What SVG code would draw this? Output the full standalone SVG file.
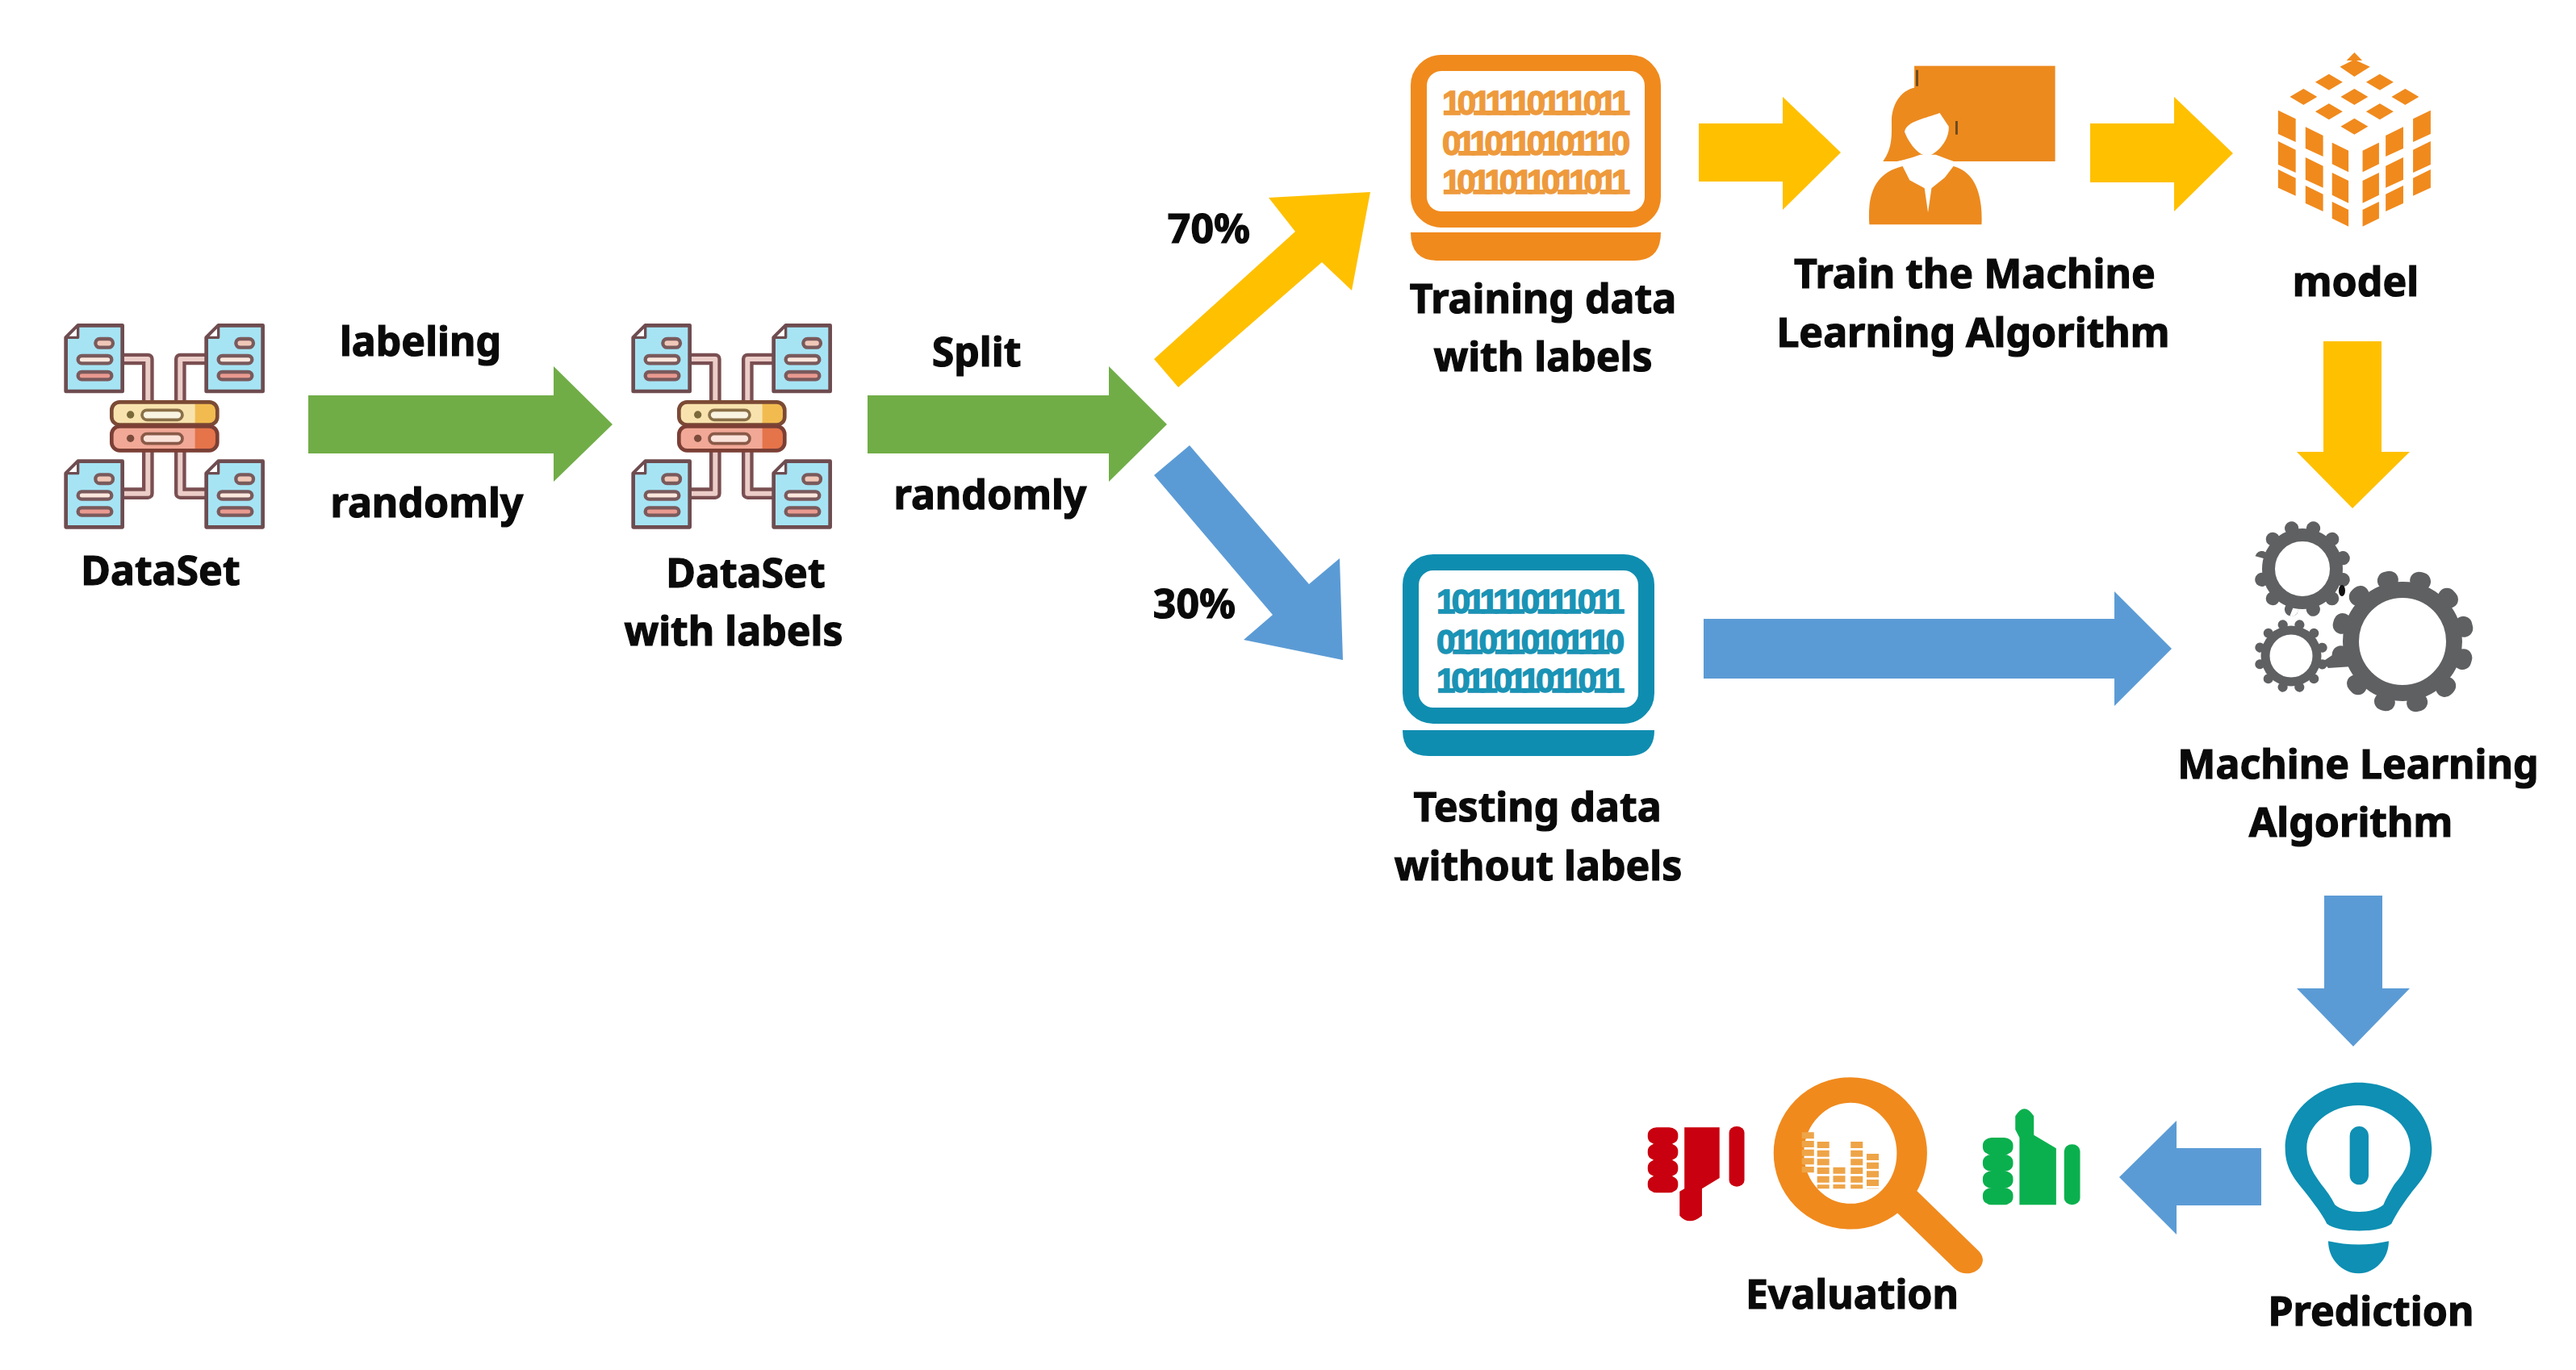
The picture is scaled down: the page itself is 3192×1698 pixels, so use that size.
<svg xmlns="http://www.w3.org/2000/svg" width="3192" height="1698" viewBox="0 0 3192 1698">
<style>
.t{font-family:"Noto Sans","Open Sans","Liberation Sans",sans-serif;font-weight:700;font-size:50px;fill:#0a0a0a;stroke:#0a0a0a;stroke-width:1.2px;text-anchor:middle}
.y{fill:#ffc000}.g{fill:#70ad47}.b{fill:#5b9bd5}
.bin{font-family:"Liberation Sans",sans-serif;font-weight:700;font-size:42px;stroke-width:1.5px}
.gear{fill:none;stroke:#5f6062}
.teeth{fill:none;stroke:#5f6062;stroke-linecap:round}
.doc{fill:#a6e4f4;stroke:#6e4c50;stroke-width:14;stroke-linejoin:round}
.pill{stroke:#7a5a5c;stroke-width:13;fill:#f0c8b8}
.w1{fill:none;stroke:#7a4f52;stroke-width:44;stroke-linejoin:round}
.w2{fill:none;stroke:#eccdc8;stroke-width:18;stroke-linejoin:round}
.o{fill:#f08a1d}
.r{fill:#c9000f}.gn{fill:#0bb04e}
</style>
<defs>
<g id="doc">
<path class="doc" d="M50 5H215V250H5V50Z"/>
<path d="M50 5V50H5Z" fill="#fff" stroke="#6e4c50" stroke-width="10" stroke-linejoin="round"/>
<rect class="pill" x="115" y="55" width="65" height="32" rx="16"/>
<rect class="pill" x="50" y="118" width="125" height="28" rx="14" style="fill:#fbe6dc"/>
<rect class="pill" x="50" y="178" width="125" height="28" rx="14" style="fill:#e99a90"/>
</g>
<g id="dataset">
<path class="w1" d="M330 255H430V420M330 755H430V590M650 255H550V420M650 755H550V590"/>
<path class="w2" d="M330 255H430V420M330 755H430V590M650 255H550V420M650 755H550V590"/>
<use href="#doc" x="120" y="125"/><use href="#doc" x="642" y="125"/>
<use href="#doc" x="120" y="630"/><use href="#doc" x="642" y="630"/>
<rect x="295" y="415" width="393" height="85" rx="30" fill="#f8e3ae"/>
<path d="M605 415H658Q688 415 688 445V470Q688 500 658 500H605Z" fill="#f2bb50"/>
<rect x="295" y="415" width="393" height="85" rx="30" fill="none" stroke="#7b4a35" stroke-width="14"/>
<rect x="295" y="505" width="393" height="90" rx="30" fill="#f2a896"/>
<path d="M605 505H658Q688 505 688 535V565Q688 595 658 595H605Z" fill="#e5744a"/>
<rect x="295" y="505" width="393" height="90" rx="30" fill="none" stroke="#7b3f35" stroke-width="14"/>
<rect x="408" y="445" width="150" height="36" rx="18" fill="#f9f3e2" stroke="#8a7048" stroke-width="11"/>
<rect x="408" y="533" width="150" height="36" rx="18" fill="#fbe3da" stroke="#8a5a48" stroke-width="11"/>
<circle cx="365" cy="462" r="14" fill="#7a6a3a"/><circle cx="365" cy="550" r="14" fill="#7a4a3a"/>
</g>
</defs>
<rect width="3192" height="1698" fill="#fff"/>

<g id="connectors">
<polygon class="g" points="382,490 686,490 686,454 759,526 686,597 686,562 382,562"/>
<polygon class="g" points="1075,490 1374,490 1374,454 1446,526 1374,597 1374,562 1075,562"/>
<polygon class="y" points="1430,445 1605,287 1572,245 1698,238 1675,360 1638,325 1460,480"/>
<polygon class="b" points="1474,552 1622,724 1660,692 1664,818 1541,793 1577,762 1430,589"/>
<polygon class="y" points="2105,153 2209,153 2209,120 2281,189 2209,260 2209,225 2105,225"/>
<polygon class="y" points="2590,153 2694,153 2694,120 2767,190 2694,262 2694,226 2590,226"/>
<polygon class="y" points="2879,423 2951,423 2951,560 2986,560 2915,630 2846,560 2879,560"/>
<polygon class="b" points="2111,767 2620,767 2620,733 2691,804 2620,875 2620,841 2111,841"/>
<polygon class="b" points="2880,1110 2952,1110 2952,1225 2986,1225 2916,1297 2846,1225 2880,1225"/>
<polygon class="b" points="2802,1423 2697,1423 2697,1389 2626,1459 2697,1530 2697,1494 2802,1494"/>
</g>

<g id="dataset-1"><use href="#dataset" transform="translate(40 360) scale(.3333)"/><text class="t" x="199" y="725">DataSet</text></g>
<g id="label-labeling"><text class="t" x="521" y="441">labeling</text></g>
<g id="label-randomly-1"><text class="t" x="529" y="641">randomly</text></g>
<g id="dataset-2"><use href="#dataset" transform="translate(743 360) scale(.3333)"/><text class="t" x="924" y="728">DataSet</text><text class="t" x="909" y="800">with labels</text></g>
<g id="label-split"><text class="t" x="1210" y="454">Split</text></g>
<g id="label-randomly-2"><text class="t" x="1227" y="631">randomly</text></g>
<g id="label-70"><text class="t" x="1498" y="301">70%</text></g>
<g id="label-30"><text class="t" x="1480" y="766">30%</text></g>

<g id="training-data">
<rect x="1758" y="78" width="290" height="194" rx="28" fill="#fff" stroke="#f08a1d" stroke-width="20"/>
<path class="o" d="M1748 288H2058Q2058 323 2025 323H1781Q1748 323 1748 288Z"/>
<g class="bin" fill="#ee9a3c" stroke="#ee9a3c">
<text x="1787" y="142" textLength="233">1011110111011</text>
<text x="1787" y="192" textLength="233">0110110101110</text>
<text x="1787" y="240" textLength="233">1011011011011</text>
</g>
<text class="t" x="1912" y="388">Training data</text><text class="t" x="1912" y="460">with labels</text>
</g>

<g id="testing-data">
<rect x="1748" y="697" width="292" height="190" rx="28" fill="#fff" stroke="#0f8db0" stroke-width="20"/>
<path d="M1738 905H2050Q2050 937 2017 937H1771Q1738 937 1738 905Z" fill="#0f8db0"/>
<g class="bin" fill="#1a93b5" stroke="#1a93b5">
<text x="1780" y="760" textLength="233">1011110111011</text>
<text x="1780" y="810" textLength="233">0110110101110</text>
<text x="1780" y="858" textLength="233">1011011011011</text>
</g>
<text class="t" x="1905" y="1018">Testing data</text><text class="t" x="1906" y="1091">without labels</text>
</g>

<g id="train-algorithm">
<g transform="translate(2280 50) scale(.4847 .3333)">
<rect x="190" y="95" width="360" height="355" fill="#ec8a1e"/>
<path fill="#ec8a1e" d="M195 175C150 185 132 250 132 300C132 350 135 400 110 450H310V290L260 175Z"/>
<path fill="#fff" d="M255 270C220 290 170 300 165 340C175 380 200 430 225 430C250 420 280 370 278 320Z"/>
<path fill="#fff" d="M105 462Q170 445 205 425L245 425Q280 445 320 465L300 490H130Z"/>
<path fill="#ec8a1e" d="M75 685C70 580 85 495 160 468L178 520L216 550L225 640L234 550L268 510L290 468C345 490 365 570 362 685Z"/>
<path d="M197 110V170M298 300V350" stroke="#6b4a20" stroke-width="6"/>
</g>
<text class="t" x="2447" y="357">Train the Machine</text><text class="t" x="2445" y="430">Learning Algorithm</text>
</g>

<g id="model">
<g class="o" transform="translate(2280 50) scale(.4847 .3333)">
<path d="M1315 45L1335 75L1320 75L1355 98L1315 135L1278 98L1310 75L1295 75Z"/>
<path d="M1250 125L1285 155L1250 185L1215 155Z"/>
<path d="M1380 125L1415 155L1380 185L1345 155Z"/>
<path d="M1185 180L1220 210L1185 240L1150 210Z"/>
<path d="M1315 180L1350 210L1315 240L1280 210Z"/>
<path d="M1445 180L1480 210L1445 240L1410 210Z"/>
<path d="M1250 235L1285 265L1250 295L1215 265Z"/>
<path d="M1380 235L1415 265L1380 295L1345 265Z"/>
<path d="M1315 290L1350 320L1315 350L1280 320Z"/>
<path d="M1120 260L1165 292V378L1120 348ZM1120 375L1165 407V492L1120 462ZM1120 480L1165 512V578L1120 548Z"/>
<path d="M1190 322L1235 354V432L1190 402ZM1190 435L1235 467V548L1190 518ZM1190 540L1235 572V636L1190 606Z"/>
<path d="M1258 380L1300 410V490L1258 460ZM1258 492L1300 522V605L1258 575ZM1258 600L1300 630V692L1258 662Z"/>
<path d="M1510 260L1465 292V378L1510 348ZM1510 375L1465 407V492L1510 462ZM1510 480L1465 512V578L1510 548Z"/>
<path d="M1440 322L1395 354V432L1440 402ZM1440 435L1395 467V548L1440 518ZM1440 540L1395 572V636L1440 606Z"/>
<path d="M1378 380L1336 410V490L1378 460ZM1378 492L1336 522V605L1378 575ZM1378 600L1336 630V692L1378 662Z"/>
</g>
<text class="t" x="2919" y="367">model</text>
</g>

<g id="algorithm">
<circle class="gear" cx="2853" cy="705" r="42" stroke-width="16"/>
<circle class="teeth" cx="2853" cy="705" r="52" stroke-width="17" pathLength="24" stroke-dasharray=".01 1.99" transform="rotate(15 2853 705)"/>
<circle class="gear" cx="2839" cy="813" r="32" stroke-width="11"/>
<circle class="teeth" cx="2839" cy="813" r="40" stroke-width="12" pathLength="24" stroke-dasharray=".01 1.99" transform="rotate(15 2839 813)"/>
<path d="M2878 820L2905 802L2915 826L2885 828Z" fill="#5f6062"/>
<circle class="gear" cx="2977" cy="795" r="64" stroke-width="20"/>
<circle class="teeth" cx="2977" cy="795" r="78" stroke-width="22" pathLength="24" stroke-dasharray=".2 1.8" transform="rotate(15 2977 795)"/>
<ellipse cx="2902" cy="732" rx="4" ry="7" fill="#111"/>
<text class="t" x="2922" y="965">Machine Learning</text><text class="t" x="2913" y="1037">Algorithm</text>
</g>

<g id="prediction">
<g transform="translate(2760 1320) scale(.3333)" fill="#0e8fb3">
<path fill-rule="evenodd" d="M488 65C640 65 760 175 760 310C760 390 720 430 680 480C650 520 630 550 610 590C570 625 410 625 370 590C350 550 325 520 295 480C255 430 215 390 215 310C215 175 335 65 488 65ZM488 150C590 150 680 220 680 310C680 370 650 410 620 445C605 470 590 495 580 520C540 555 440 555 400 520C385 490 370 470 350 445C325 410 295 370 295 310C295 220 385 150 488 150Z"/>
<rect x="455" y="228" width="70" height="217" rx="35"/>
<path d="M375 655Q488 680 600 655C600 720 550 775 488 775C425 775 375 720 375 655Z"/>
</g>
<text class="t" x="2938" y="1643">Prediction</text>
</g>

<g id="evaluation">
<g transform="translate(2020 1310) scale(.3954 .3333)">
<ellipse cx="690" cy="358" rx="193" ry="235" fill="#fff" stroke="#f08a1d" stroke-width="95"/>
<path d="M860 530L1055 755" stroke="#f08a1d" stroke-width="100" stroke-linecap="round" fill="none"/>
<g fill="none" stroke="#eea447" stroke-width="38" stroke-dasharray="24 8">
<path d="M557 280V430"/><path d="M605 315V490"/><path d="M655 410V490"/><path d="M710 315V490"/><path d="M760 360V490"/>
</g>
<g class="r"><rect x="55" y="262" width="95" height="63" rx="28"/><rect x="55" y="322" width="95" height="63" rx="28"/><rect x="55" y="382" width="95" height="63" rx="28"/><rect x="55" y="442" width="95" height="63" rx="28"/>
<path d="M170 262H280V450L225 490V590Q185 630 155 590V500L170 490Z"/><rect x="310" y="258" width="48" height="224" rx="24"/></g>
<g class="gn"><rect x="1105" y="300" width="95" height="64" rx="28"/><rect x="1105" y="362" width="95" height="64" rx="28"/><rect x="1105" y="424" width="95" height="64" rx="28"/><rect x="1105" y="486" width="95" height="64" rx="28"/>
<path d="M1207 220Q1235 165 1265 220V290L1335 340V550H1220V300L1207 270Z"/><rect x="1360" y="325" width="50" height="225" rx="25"/></g>
</g>
<text class="t" x="2295" y="1622">Evaluation</text>
</g>
</svg>
